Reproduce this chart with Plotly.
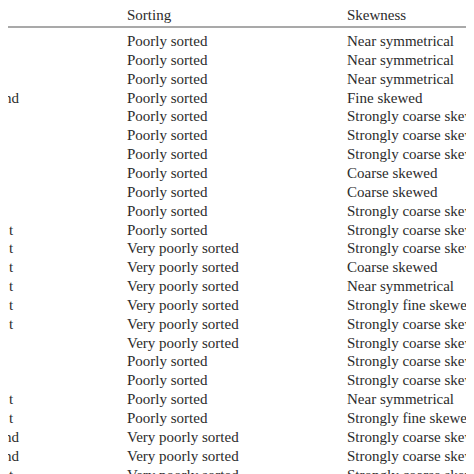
import plotly.graph_objects as go

# table content (left column is cropped in the reference)
left_col = ["", "", "", "nd", "", "", "", "", "", "", "t", "t", "t", "t", "t", "t",
            "", "", "", "t", "t", "nd", "nd", "t"]
sorting = ["Poorly sorted"] * 11 + ["Very poorly sorted"] * 6 + ["Poorly sorted"] * 4 + ["Very poorly sorted"] * 3
skewness = ["Near symmetrical", "Near symmetrical", "Near symmetrical", "Fine skewed",
            "Strongly coarse skewed", "Strongly coarse skewed", "Strongly coarse skewed",
            "Coarse skewed", "Coarse skewed", "Strongly coarse skewed", "Strongly coarse skewed",
            "Strongly coarse skewed", "Coarse skewed", "Near symmetrical", "Strongly fine skewed",
            "Strongly coarse skewed", "Strongly coarse skewed", "Strongly coarse skewed",
            "Strongly coarse skewed", "Near symmetrical", "Strongly fine skewed",
            "Strongly coarse skewed", "Strongly coarse skewed", "Strongly coarse skewed"]
headers = ["Sorting", "Skewness"]

rows = list(range(len(sorting)))
row_y = [33 + i * 18.85 for i in rows]
font = dict(family="Liberation Serif", size=15, color="#2b2b2b")

fig = go.Figure()
for x, col in [(117, sorting), (337, skewness)]:
    for y, t in zip(row_y, col):
        fig.add_annotation(x=x, y=y, text=t, xanchor="left", yanchor="middle",
                           showarrow=False, font=font)
for y, t in zip(row_y, left_col):
    if t:
        fig.add_annotation(x=14 if t == "nd" else 8, y=y, text=t, xanchor="right",
                           yanchor="middle", showarrow=False, font=font)
for x, t in zip([117, 337], headers):
    fig.add_annotation(x=x, y=7, text=t, xanchor="left", yanchor="middle",
                       showarrow=False, font=font)

fig.add_shape(type="line", x0=0, x1=474, y0=19, y1=19, line=dict(color="#555", width=1.2))

fig.update_layout(
    width=474, height=474, margin=dict(l=0, r=0, t=0, b=0),
    plot_bgcolor="white", paper_bgcolor="white", showlegend=False,
    xaxis=dict(range=[0, 474], visible=False, fixedrange=True),
    yaxis=dict(range=[474, 0], visible=False, fixedrange=True),
)
fig.write_html("out.html")
